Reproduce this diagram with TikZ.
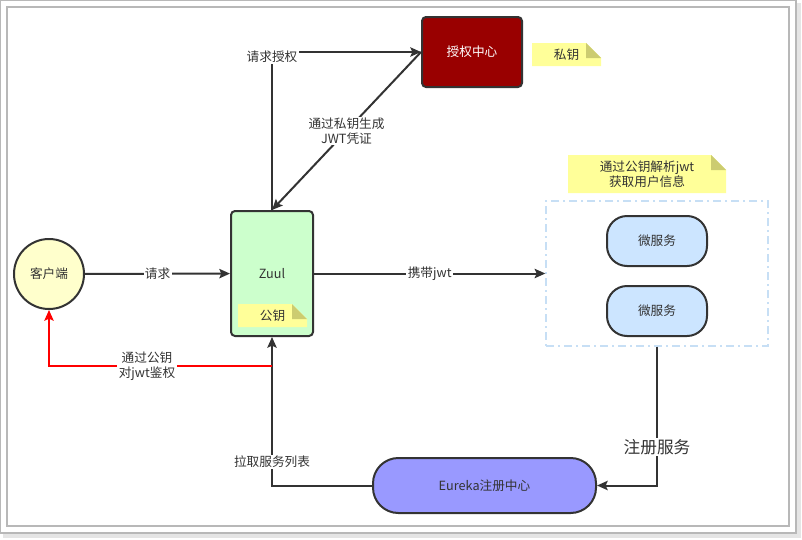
\documentclass[tikz,border=0pt]{standalone}
\usepackage{fontspec}
\setmainfont{Noto Sans CJK SC}
\usetikzlibrary{arrows.meta}
\definecolor{txt}{HTML}{333333}
\definecolor{lnc}{HTML}{333333}
\definecolor{authc}{HTML}{990000}
\definecolor{zuulc}{HTML}{CCFFCC}
\definecolor{clientc}{HTML}{FFFFCC}
\definecolor{eurekac}{HTML}{9999FF}
\definecolor{msc}{HTML}{CCE5FF}
\definecolor{grpc}{HTML}{C7DFF5}
\definecolor{notec}{HTML}{FFFF99}
\definecolor{foldc}{HTML}{CCCC70}
\definecolor{framec}{HTML}{B8B8B8}
\begin{document}
\begin{tikzpicture}[x=0.75pt,y=-0.75pt,
  every node/.style={font=\fontsize{9.5}{11.5}\selectfont, text=txt},
  box/.style={draw=lnc, line width=1.5pt, inner sep=0pt, align=center},
  notebox/.style={inner sep=0pt, align=center},
  arr/.style={draw=lnc, line width=1.5pt, -{Stealth[length=8pt,width=7pt,inset=1.5pt]}},
  redarr/.style={draw=red, line width=1.5pt, -{Stealth[length=8pt,width=7pt,inset=1.5pt]}},
  lbl/.style={fill=white, inner sep=1pt, align=center, font=\fontsize{9.5}{11}\selectfont}
]
\useasboundingbox (0,0) rectangle (802,539);
% frame
\fill[black!10] (3,3) rectangle (801,538);
\filldraw[fill=white, draw=framec, line width=1pt] (0.5,0.5) rectangle (796,533);
\draw[draw=framec, line width=1pt] (7,7) rectangle (789,526);

% nodes
\node[box, fill=authc, rounded corners=3pt, minimum width=75pt, minimum height=52.5pt, text=white] (auth) at (472,52) {授权中心};
\node[box, fill=zuulc, rounded corners=3pt, minimum width=61.5pt, minimum height=93.75pt] (zuul) at (272,273.5) {Zuul};
\node[box, fill=clientc, circle, minimum size=52.5pt] (client) at (49,274) {客户端};
\node[box, fill=eurekac, rounded corners=19pt, minimum width=167.25pt, minimum height=41.25pt] (eureka) at (484.5,485.5) {Eureka注册中心};
\node[draw=grpc, line width=1pt, dash pattern=on 6pt off 3pt on 1.5pt off 3pt, minimum width=166.5pt, minimum height=108.75pt, inner sep=0pt] (group) at (657,273.5) {};
\node[box, fill=msc, rounded corners=15pt, minimum width=75pt, minimum height=37.5pt] (ms1) at (657,241) {微服务};
\node[box, fill=msc, rounded corners=15pt, minimum width=75pt, minimum height=37.5pt] (ms2) at (657,311) {微服务};

% notes
\foreach \nm/\cx/\cy/\w/\h/\t in {n1/566.5/54.5/69/23/{私钥}, n2/272.5/315.5/69/23/{公钥}, n3/647/174/158/38/{通过公钥解析jwt\\获取用户信息}}{
  \fill[notec] (\cx-\w/2,\cy-\h/2) -- (\cx+\w/2-15,\cy-\h/2) -- (\cx+\w/2,\cy-\h/2+15) -- (\cx+\w/2,\cy+\h/2) -- (\cx-\w/2,\cy+\h/2) -- cycle;
  \fill[foldc] (\cx+\w/2-15,\cy-\h/2) -- (\cx+\w/2-15,\cy-\h/2+15) -- (\cx+\w/2,\cy-\h/2+15) -- cycle;
  \node[notebox, font=\fontsize{9.5}{11.5}\selectfont] (\nm) at (\cx,\cy) {\t};
}

% connectors
\draw[arr] (zuul.north) |- (auth.west);
\node[lbl] (l1) at (272,57) {请求授权};
\draw[arr] (auth.west) -- (zuul.north) node[lbl, midway] (l2) {通过私钥生成\\JWT凭证};
\draw[arr] (client) -- (zuul) node[lbl, midway] (l3) {请求};
\draw[arr] (zuul.east) -- (group.west) node[lbl, midway] (l4) {携带jwt};
\draw[arr] (eureka.west) -| (zuul.south);
\node[lbl] (l5) at (272,462) {拉取服务列表};
\coordinate (rj) at (272,366);
\draw[redarr] (rj) -| (client.south);
\node[lbl] (l6) at (147,366) {通过公钥\\对jwt鉴权};
\draw[arr] (group.south) |- (eureka.east);
\node[lbl, font=\fontsize{12.5}{14}\selectfont] (l7) at (657,447) {注册服务};
\end{tikzpicture}
\end{document}
